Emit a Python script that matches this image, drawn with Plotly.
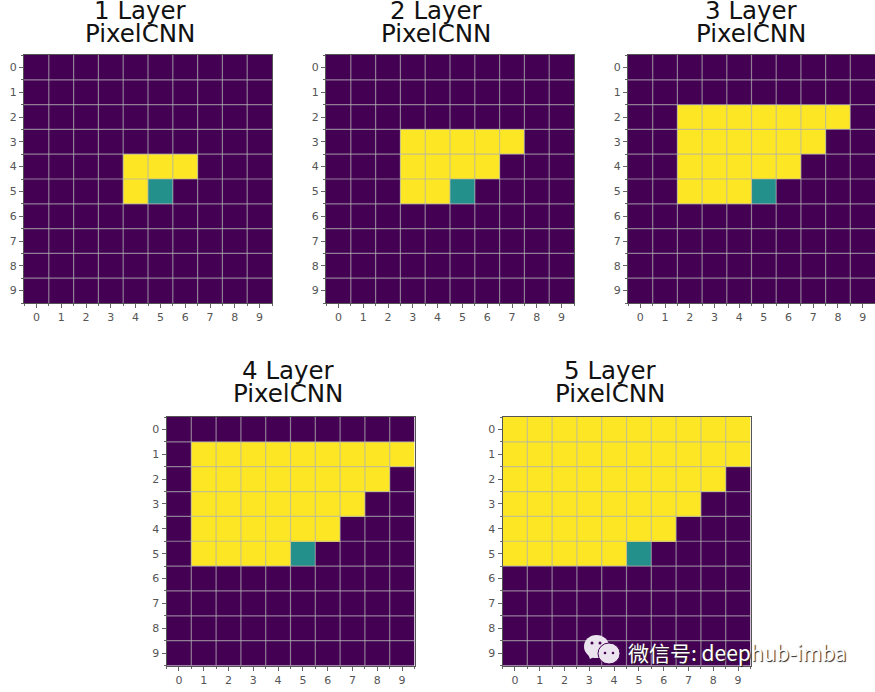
import plotly.graph_objects as go

W = 875
H = 692

layer_names = ["1 Layer", "2 Layer", "3 Layer", "4 Layer", "5 Layer"]
cells = [0, 1, 2, 3, 4, 5, 6, 7, 8, 9]
edges = [-0.5, 0.5, 1.5, 2.5, 3.5, 4.5, 5.5, 6.5, 7.5, 8.5, 9.5]

layer1 = [
    [0, 0, 0, 0, 0, 0, 0, 0, 0, 0],
    [0, 0, 0, 0, 0, 0, 0, 0, 0, 0],
    [0, 0, 0, 0, 0, 0, 0, 0, 0, 0],
    [0, 0, 0, 0, 0, 0, 0, 0, 0, 0],
    [0, 0, 0, 0, 1, 1, 1, 0, 0, 0],
    [0, 0, 0, 0, 1, 0.5, 0, 0, 0, 0],
    [0, 0, 0, 0, 0, 0, 0, 0, 0, 0],
    [0, 0, 0, 0, 0, 0, 0, 0, 0, 0],
    [0, 0, 0, 0, 0, 0, 0, 0, 0, 0],
    [0, 0, 0, 0, 0, 0, 0, 0, 0, 0],
]
layer2 = [
    [0, 0, 0, 0, 0, 0, 0, 0, 0, 0],
    [0, 0, 0, 0, 0, 0, 0, 0, 0, 0],
    [0, 0, 0, 0, 0, 0, 0, 0, 0, 0],
    [0, 0, 0, 1, 1, 1, 1, 1, 0, 0],
    [0, 0, 0, 1, 1, 1, 1, 0, 0, 0],
    [0, 0, 0, 1, 1, 0.5, 0, 0, 0, 0],
    [0, 0, 0, 0, 0, 0, 0, 0, 0, 0],
    [0, 0, 0, 0, 0, 0, 0, 0, 0, 0],
    [0, 0, 0, 0, 0, 0, 0, 0, 0, 0],
    [0, 0, 0, 0, 0, 0, 0, 0, 0, 0],
]
layer3 = [
    [0, 0, 0, 0, 0, 0, 0, 0, 0, 0],
    [0, 0, 0, 0, 0, 0, 0, 0, 0, 0],
    [0, 0, 1, 1, 1, 1, 1, 1, 1, 0],
    [0, 0, 1, 1, 1, 1, 1, 1, 0, 0],
    [0, 0, 1, 1, 1, 1, 1, 0, 0, 0],
    [0, 0, 1, 1, 1, 0.5, 0, 0, 0, 0],
    [0, 0, 0, 0, 0, 0, 0, 0, 0, 0],
    [0, 0, 0, 0, 0, 0, 0, 0, 0, 0],
    [0, 0, 0, 0, 0, 0, 0, 0, 0, 0],
    [0, 0, 0, 0, 0, 0, 0, 0, 0, 0],
]
layer4 = [
    [0, 0, 0, 0, 0, 0, 0, 0, 0, 0],
    [0, 1, 1, 1, 1, 1, 1, 1, 1, 1],
    [0, 1, 1, 1, 1, 1, 1, 1, 1, 0],
    [0, 1, 1, 1, 1, 1, 1, 1, 0, 0],
    [0, 1, 1, 1, 1, 1, 1, 0, 0, 0],
    [0, 1, 1, 1, 1, 0.5, 0, 0, 0, 0],
    [0, 0, 0, 0, 0, 0, 0, 0, 0, 0],
    [0, 0, 0, 0, 0, 0, 0, 0, 0, 0],
    [0, 0, 0, 0, 0, 0, 0, 0, 0, 0],
    [0, 0, 0, 0, 0, 0, 0, 0, 0, 0],
]
layer5 = [
    [1, 1, 1, 1, 1, 1, 1, 1, 1, 1],
    [1, 1, 1, 1, 1, 1, 1, 1, 1, 1],
    [1, 1, 1, 1, 1, 1, 1, 1, 1, 0],
    [1, 1, 1, 1, 1, 1, 1, 1, 0, 0],
    [1, 1, 1, 1, 1, 1, 1, 0, 0, 0],
    [1, 1, 1, 1, 1, 0.5, 0, 0, 0, 0],
    [0, 0, 0, 0, 0, 0, 0, 0, 0, 0],
    [0, 0, 0, 0, 0, 0, 0, 0, 0, 0],
    [0, 0, 0, 0, 0, 0, 0, 0, 0, 0],
    [0, 0, 0, 0, 0, 0, 0, 0, 0, 0],
]
layers = [layer1, layer2, layer3, layer4, layer5]

# panel boxes in pixels of the page: left, right, top, bottom
boxes = [
    (24, 272, 55, 303),
    (326, 574, 55, 303),
    (628, 875, 55, 303),
    (166.5, 414.5, 417, 665.5),
    (502.5, 750.5, 417, 665.5),
]
# the titles are not centred on their panels in the original: centre x, y of line 1, y of line 2
title_pos = [
    (140, 11, 33),
    (436, 11, 33),
    (751, 11, 33),
    (288, 370.5, 393),
    (610, 370.5, 393),
]


def px(x):
    return x / W


def py(y):
    return 1 - y / H


fig = go.Figure()
annotations = []
shapes = []
title_font = dict(family="DejaVu Sans", size=24.5, color="#111")

for i, (name, z, box, tp) in enumerate(zip(layer_names, layers, boxes, title_pos)):
    n = "" if i == 0 else str(i + 1)
    fig.add_trace(go.Heatmap(
        z=z, x=cells, y=cells,
        colorscale="Viridis", zmin=0, zmax=1,
        showscale=False, hoverinfo="skip",
        xaxis="x" + n, yaxis="y" + n,
    ))
    axis = dict(
        tickvals=cells,
        ticks="outside", ticklen=4, tickwidth=1, tickcolor="#666",
        tickfont=dict(family="DejaVu Sans", size=11, color="#555"),
        minor=dict(tickvals=edges, ticks="outside", ticklen=2, tickwidth=1, tickcolor="#666"),
        showgrid=False, zeroline=False,
        showline=True, mirror=True, linecolor="#555", linewidth=1,
    )
    fig.update_layout({
        "xaxis" + n: dict(axis, domain=[px(box[0]), px(box[1])], range=[-0.5, 9.5],
                          anchor="y" + n),
        "yaxis" + n: dict(axis, domain=[py(box[3]), py(box[2])], range=[9.5, -0.5],
                          anchor="x" + n),
    })
    # grid sits on top of the cells like plt.grid in the original
    for e in edges[1:-1]:
        shapes.append(dict(type="line", xref="x" + n, yref="y" + n, x0=e, x1=e, y0=-0.5, y1=9.5,
                           line=dict(color="rgba(176,176,176,0.7)", width=1.2), layer="above"))
        shapes.append(dict(type="line", xref="x" + n, yref="y" + n, x0=-0.5, x1=9.5, y0=e, y1=e,
                           line=dict(color="rgba(176,176,176,0.7)", width=1.2), layer="above"))
    annotations.append(dict(text=name, x=px(tp[0]), y=py(tp[1]), xref="paper", yref="paper",
                            xanchor="center", yanchor="middle", showarrow=False, font=title_font))
    annotations.append(dict(text="PixelCNN", x=px(tp[0]), y=py(tp[2]), xref="paper", yref="paper",
                            xanchor="center", yanchor="middle", showarrow=False, font=title_font))

# watermark
annotations.append(dict(
    text="微信号: deephub-imba", x=px(626), y=py(652), xref="paper", yref="paper",
    xanchor="left", yanchor="middle", showarrow=False,
    font=dict(family="Noto Sans CJK SC", size=21, color="white", shadow="1px 1px 1px #222"),
))
icon = "rgba(235,228,238,1)"
shapes.append(dict(type="circle", xref="paper", yref="paper", x0=px(584), x1=px(609), y0=py(658), y1=py(635),
                   fillcolor=icon, line=dict(width=0), layer="above"))
shapes.append(dict(type="path", xref="paper", yref="paper",
                   path=f"M {px(588)} {py(654)} L {px(590)} {py(659)} L {px(596)} {py(656)} Z",
                   fillcolor=icon, line=dict(width=0), layer="above"))
shapes.append(dict(type="circle", xref="paper", yref="paper", x0=px(598), x1=px(620), y0=py(664), y1=py(643),
                   fillcolor=icon, line=dict(color="#440154", width=1), layer="above"))
for ex, ey, r in [(592, 643, 1.5), (600, 643, 1.5), (605, 653, 1.3), (613, 653, 1.3)]:
    shapes.append(dict(type="circle", xref="paper", yref="paper", x0=px(ex - r), x1=px(ex + r),
                       y0=py(ey + r), y1=py(ey - r), fillcolor="#440154", line=dict(width=0), layer="above"))

fig.update_layout(
    width=W, height=H, autosize=False,
    margin=dict(l=0, r=0, t=0, b=0),
    paper_bgcolor="white", plot_bgcolor="white",
    showlegend=False,
    annotations=annotations, shapes=shapes,
)
fig.write_html("out.html", config={"displayModeBar": False},
               post_script="document.body.style.margin='0';")
